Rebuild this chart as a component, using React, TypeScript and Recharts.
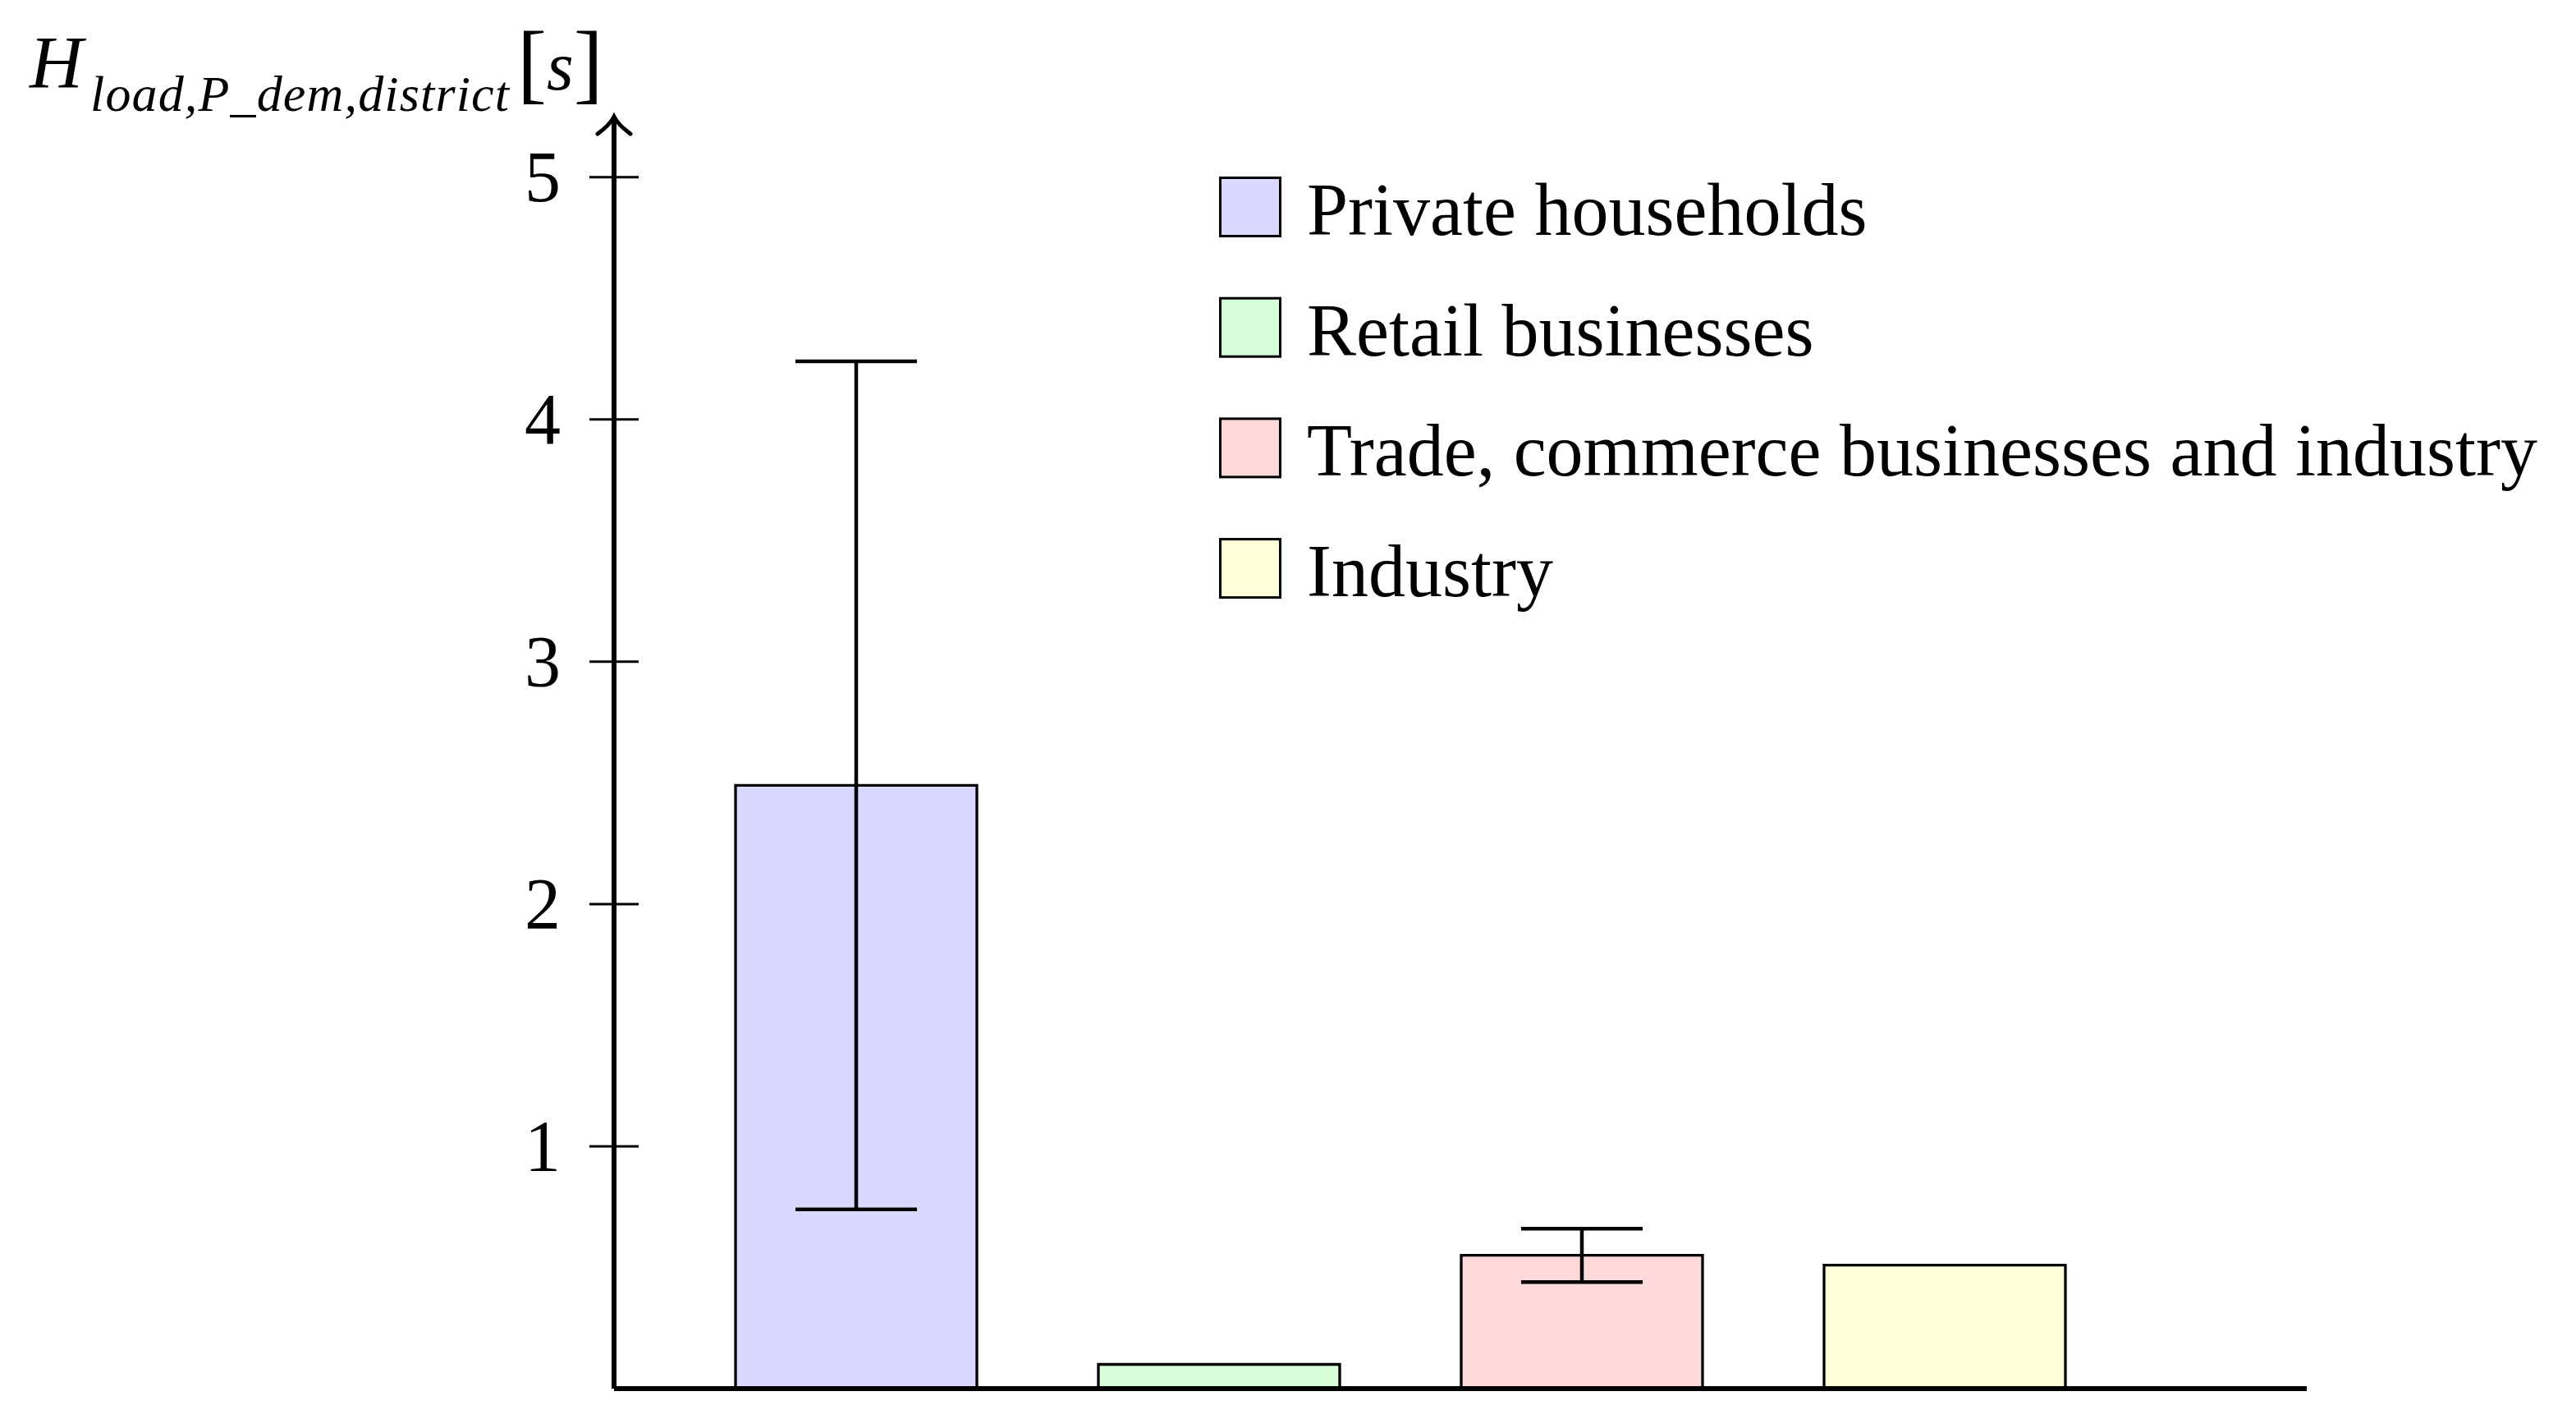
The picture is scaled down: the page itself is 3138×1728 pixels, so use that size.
import { BarChart, Bar, XAxis, YAxis, Cell, ErrorBar, Legend } from 'recharts';

const categories = [
  'Private households',
  'Retail businesses',
  'Trade, commerce businesses and industry',
  'Industry',
];
const meanValues = [2.49, 0.1, 0.55, 0.51];
const errorValues = [1.75, null, 0.11, null];
const barColors = ['#d9d9ff', '#d9ffd9', '#ffd9d9', '#ffffd9'];
const yTicks = [1, 2, 3, 4, 5];

const data = categories.map((name, i) => ({
  name,
  value: meanValues[i],
  err: errorValues[i],
}));

const FONT = '"Liberation Serif", "Times New Roman", serif';
const ROW_GAP = 146.7;

const YTick = ({ x, y, payload }: any) => (
  <g>
    <line x1={x + 35} x2={x + 95} y1={y} y2={y} stroke="#000" strokeWidth={3} />
    <text x={x} y={y} dy={29} textAnchor="end" fontSize={88} fontFamily={FONT} fill="#000">
      {payload.value}
    </text>
  </g>
);

// arrow head on the y axis plus the axis title
const AxisDecor = ({ viewBox }: any) => {
  const ax = viewBox.x + viewBox.width;
  const ay = viewBox.y;
  return (
    <g>
      <path
        d={`M ${ax - 20} ${ay + 21} Q ${ax - 5} ${ay + 10} ${ax} ${ay} Q ${ax + 5} ${ay + 10} ${ax + 20} ${ay + 21}`}
        fill="none"
        stroke="#000"
        strokeWidth={5}
        strokeLinecap="round"
      />
      <text fontFamily={FONT} fill="#000">
        <tspan x={36} y={107} fontSize={90} fontStyle="italic">H</tspan>
        <tspan x={110} y={135} fontSize={62} fontStyle="italic" textLength={510} lengthAdjust="spacing">
          load,P_dem,district
        </tspan>
        <tspan x={630} y={113} fontSize={108}>[</tspan>
        <tspan y={109} fontSize={84} fontStyle="italic">s</tspan>
        <tspan y={113} fontSize={108}>]</tspan>
      </text>
    </g>
  );
};

const LegendBox = () => (
  <svg width={1650} height={ROW_GAP * 4} style={{ display: 'block', overflow: 'visible' }}>
    {categories.map((name, i) => (
      <g key={name}>
        <rect
          x={1.5}
          y={i * ROW_GAP + 1.5}
          width={73}
          height={71}
          fill={barColors[i]}
          stroke="#000"
          strokeWidth={3}
        />
        <text x={107} y={i * ROW_GAP + 71} fontSize={90} fontFamily={FONT} fill="#000">
          {name}
        </text>
      </g>
    ))}
  </svg>
);

export default function App() {
  return (
    <div style={{ width: 3138, height: 1728, background: '#fff' }}>
      <style>{'body{margin:0}'}</style>
      <BarChart
        width={3138}
        height={1728}
        data={data}
        margin={{ top: 142, right: 328, bottom: 7, left: 548 }}
      >
        <XAxis
          dataKey="name"
          height={30}
          tick={false}
          tickLine={false}
          axisLine={{ stroke: '#000', strokeWidth: 6 }}
          padding={{ left: 74, right: 220 }}
        />
        <YAxis
          width={200}
          domain={[0, 5.25]}
          ticks={yTicks}
          tick={<YTick />}
          tickLine={false}
          tickSize={30}
          tickMargin={35}
          axisLine={{ stroke: '#000', strokeWidth: 6 }}
          label={{ content: (props: any) => <AxisDecor {...props} /> }}
        />
        <Legend
          layout="horizontal"
          align="center"
          verticalAlign="middle"
          content={() => <LegendBox />}
          wrapperStyle={{ left: 1485, top: 215, width: 1650, height: ROW_GAP * 4 }}
        />
        <Bar dataKey="value" barSize={294} stroke="#000" strokeWidth={3.3} isAnimationActive={false}>
          {data.map((entry, index) => (
            <Cell key={`cell-${index}`} fill={barColors[index]} />
          ))}
          <ErrorBar dataKey="err" width={74} stroke="#000" strokeWidth={4.5} isAnimationActive={false} />
        </Bar>
      </BarChart>
    </div>
  );
}
